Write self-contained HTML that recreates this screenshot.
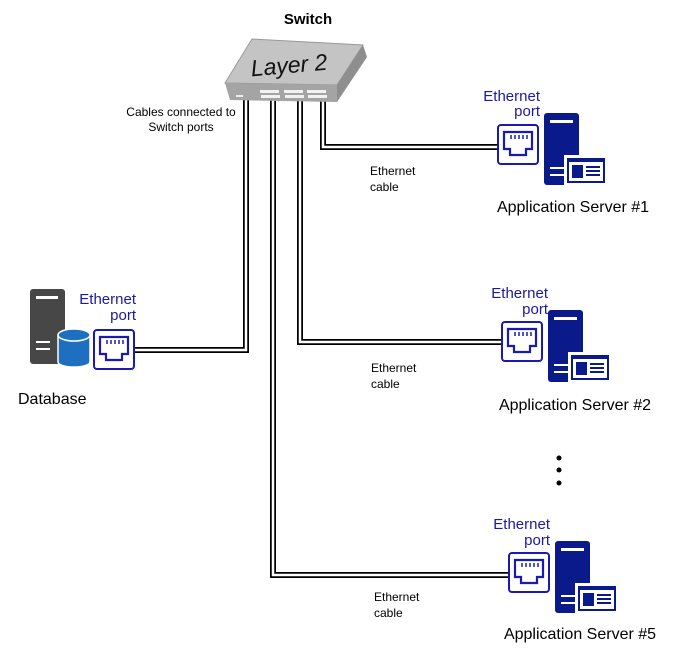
<!DOCTYPE html>
<html><head><meta charset="utf-8"><style>
body{margin:0;background:#fff}
svg{display:block}
text{font-family:"Liberation Sans",sans-serif}
</style></head><body>
<svg width="682" height="668" viewBox="0 0 682 668" xmlns="http://www.w3.org/2000/svg">
<defs>
<g id="port">
  <rect x="1" y="1" width="40" height="39" rx="3" fill="#fff" stroke="#1a1ab0" stroke-width="2"/>
  <path d="M7 8 H35 V25 H29 V31 H13 V25 H7 Z" fill="none" stroke="#1a1ab0" stroke-width="2.2"/>
  <g stroke="#1a1ab0" stroke-width="1.5"><line x1="14" y1="11" x2="14" y2="15"/><line x1="18" y1="11" x2="18" y2="15"/><line x1="22" y1="11" x2="22" y2="15"/><line x1="26" y1="11" x2="26" y2="15"/><line x1="30" y1="11" x2="30" y2="15"/></g>
</g>
<g id="srv">
  <use href="#port"/>
  <rect x="47" y="-11" width="35" height="72" rx="3" fill="#0a1a8a"/>
  <rect x="53" y="-4" width="23" height="3" fill="#fff"/>
  <rect x="53" y="43" width="14" height="2" fill="#fff"/>
  <rect x="53" y="50" width="14" height="2" fill="#fff"/>
  <rect x="67" y="31" width="44" height="31" fill="#fff"/>
  <rect x="70" y="34" width="38" height="25" fill="#0a1a8a"/>
  <rect x="72" y="38" width="34" height="19" fill="#fff"/>
  <rect x="75" y="41" width="11" height="13" fill="#0a1a8a"/>
  <g fill="#0a1a8a"><rect x="89" y="42" width="14" height="2"/><rect x="89" y="46" width="14" height="2"/><rect x="89" y="50" width="14" height="2"/></g>
</g>
</defs>

<g fill="none" stroke-linejoin="miter">
  <g stroke="#000" stroke-width="6">
    <polyline points="246,100 246,350 134,350"/>
    <polyline points="273,100 273,575 509,575"/>
    <polyline points="300,100 300,342 502,342"/>
    <polyline points="323,100 323,147 498,147"/>
  </g>
  <g stroke="#fff" stroke-width="2.5">
    <polyline points="246,100 246,350 134,350"/>
    <polyline points="273,100 273,575 509,575"/>
    <polyline points="300,100 300,342 502,342"/>
    <polyline points="323,100 323,147 498,147"/>
  </g>
</g>

<polygon points="252,39 363,45 337,85 225,83" fill="#c4c4c4" stroke="#999" stroke-width="1"/>
<polygon points="363,45 367,57 337,102 337,85" fill="#8e8e8e"/>
<polygon points="225,83 337,85 337,102 230,100" fill="#a4a4a4"/>
<rect x="236" y="95" width="7" height="2" fill="#eee"/>
<g fill="#f2f2f2">
<rect x="260" y="90" width="19" height="3"/><rect x="261" y="95" width="19" height="3"/>
<rect x="284" y="90" width="19" height="3"/><rect x="285" y="95" width="19" height="3"/>
<rect x="307" y="90" width="19" height="3"/><rect x="308" y="95" width="19" height="3"/>
</g>
<text x="289" y="73" font-size="23" font-style="italic" text-anchor="middle" fill="#111" transform="rotate(-5 289 65)">Layer 2</text>
<text x="308" y="24" font-size="15" font-weight="bold" text-anchor="middle">Switch</text>

<text x="181" y="116" font-size="12" text-anchor="middle">Cables connected to</text>
<text x="181" y="131" font-size="12" text-anchor="middle">Switch ports</text>

<text x="370" y="175" font-size="12">Ethernet</text><text x="370" y="191" font-size="12">cable</text>
<text x="371" y="372" font-size="12">Ethernet</text><text x="371" y="388" font-size="12">cable</text>
<text x="374" y="601" font-size="12">Ethernet</text><text x="374" y="617" font-size="12">cable</text>

<use href="#srv" x="497" y="124"/>
<text x="540" y="101" font-size="15" text-anchor="end" fill="#1a1aa0">Ethernet</text>
<text x="540" y="116" font-size="15" text-anchor="end" fill="#1a1aa0">port</text>
<text x="573" y="212" font-size="16" text-anchor="middle">Application Server #1</text>

<use href="#srv" x="501" y="321"/>
<text x="548" y="298" font-size="15" text-anchor="end" fill="#1a1aa0">Ethernet</text>
<text x="548" y="314" font-size="15" text-anchor="end" fill="#1a1aa0">port</text>
<text x="575" y="410" font-size="16" text-anchor="middle">Application Server #2</text>

<g fill="#000"><circle cx="559" cy="458" r="2.5"/><circle cx="559" cy="470" r="2.5"/><circle cx="559" cy="483" r="2.5"/></g>

<use href="#srv" x="508" y="552"/>
<text x="550" y="529" font-size="15" text-anchor="end" fill="#1a1aa0">Ethernet</text>
<text x="550" y="545" font-size="15" text-anchor="end" fill="#1a1aa0">port</text>
<text x="580" y="639" font-size="16" text-anchor="middle">Application Server #5</text>

<rect x="30" y="289" width="35" height="75" rx="3" fill="#474747"/>
<rect x="36" y="296" width="22" height="3" fill="#fff"/>
<rect x="36" y="341" width="14" height="2" fill="#fff"/>
<rect x="36" y="348" width="14" height="2" fill="#fff"/>
<path d="M58 335 V362 A16 5 0 0 0 90 362 V335 Z" fill="#1f6fc0" stroke="#fff" stroke-width="1.5"/>
<ellipse cx="74" cy="335" rx="16" ry="6" fill="#1f6fc0" stroke="#fff" stroke-width="1.5"/>
<use href="#port" x="93" y="329"/>
<text x="136" y="304" font-size="15" text-anchor="end" fill="#1a1aa0">Ethernet</text>
<text x="136" y="320" font-size="15" text-anchor="end" fill="#1a1aa0">port</text>
<text x="18" y="404" font-size="16">Database</text>
</svg>
</body></html>
